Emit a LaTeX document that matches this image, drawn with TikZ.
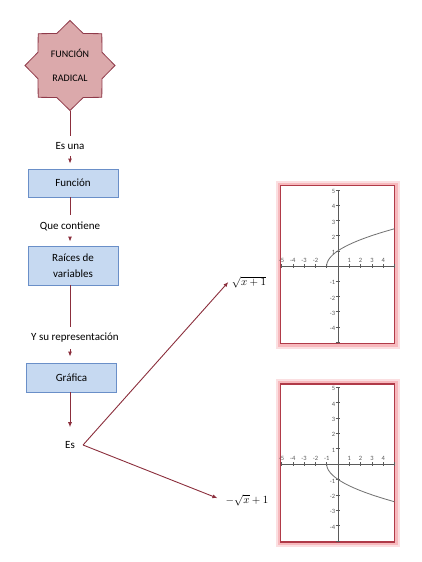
\documentclass[tikz,border=0pt]{standalone}
\usepackage[no-math]{fontspec}
\setmainfont{Carlito}
\usetikzlibrary{positioning,shapes.geometric,arrows.meta}
\definecolor{RadFill}{HTML}{DBA9AB}
\definecolor{RadLine}{HTML}{8F3A4A}
\definecolor{BoxFill}{HTML}{C6D9F1}
\definecolor{BoxLine}{HTML}{6A8FC8}
\definecolor{LinkRed}{HTML}{8B2E3C}
\definecolor{GlowPink}{HTML}{F7B9BD}
\definecolor{PanelRed}{HTML}{B03A48}
\definecolor{AxisGray}{HTML}{5A5A5A}
\definecolor{CurveGray}{HTML}{707070}

\begin{document}
\begin{tikzpicture}[x=1pt,y=-1pt,
    font=\fontsize{11}{12}\selectfont,
    starbox/.style={shape=star,star points=8,star point ratio=1.3,minimum size=90pt,inner sep=0pt,fill=RadFill,draw=RadLine,thick,align=center,font=\fontsize{10}{24}\selectfont},
    box/.style={draw=BoxLine,fill=BoxFill,thick,minimum width=90pt,align=center},
    lbl/.style={inner xsep=2pt,inner ysep=6pt},
    link/.style={draw=LinkRed,line width=0.9pt},
    arrow/.style={link,-{Latex[length=5pt,width=4pt]}},
    panel/.style={draw=PanelRed,line width=1.2pt,fill=white,inner sep=0pt,minimum width=114pt,minimum height=158pt,
      preaction={draw=GlowPink!45,line width=10pt},preaction={draw=GlowPink,line width=6pt}},
    ticklbl/.style={font=\fontsize{6.5}{7}\selectfont,text=AxisGray,inner sep=1pt},
    axis/.style={draw=AxisGray,line width=0.6pt}
  ]
    \useasboundingbox (0,0) rectangle (421,562);
    % flow column
    \node[starbox] (rad) at (70,65.5) {FUNCIÓN\\RADICAL};
    \node[lbl] (esuna) at (70,146) {Es una};
    \node[box,minimum height=28pt] (fun) at (73,183) {Función};
    \node[lbl] (quec) at (70,226) {Que contiene};
    \node[box,minimum height=39pt,font=\fontsize{11}{16}\selectfont] (rai) at (73,265.5) {Raíces de\\variables};
    \node[lbl] (yrep) at (75,338) {Y su representación};
    \node[box,minimum height=29pt] (gra) at (71.5,377.5) {Gráfica};
    \node[lbl,inner xsep=8pt] (es) at (70,445) {Es};
    \node (sqa) at (249,282) {$\sqrt{x+1}$};
    \node (sqb) at (247,500) {$-\sqrt{x}+1$};
    \draw[link] (rad.south -| esuna) -- (esuna.north);
    \draw[arrow,shorten >=5pt] (esuna.south) -- (esuna |- fun.north);
    \draw[link] (fun.south -| quec) -- (quec.north);
    \draw[arrow,shorten >=4pt] (quec.south) -- (quec |- rai.north);
    \draw[link] (rai.south -| rad) -- (rad |- yrep.north);
    \draw[arrow,shorten >=6pt] (rad |- yrep.south) -- (rad |- gra.north);
    \draw[arrow,shorten >=8pt] (gra.south -| rad) -- (es.north);
    \draw[arrow] (es.east) -- (sqa.west);
    \draw[arrow,shorten >=5pt] (es.east) -- (sqb.west);
    % graph panels
    \node[panel] (pa) at (337.5,264.5) {};
    \node[panel] (pb) at (337.5,463) {};
    \begin{scope}[shift={(338,266)},x=11.3pt,y=15.2pt]
      \draw[axis] (-5,0) -- (5,0);
      \draw[axis] (0,-5) -- (0,5);
      \foreach \k in {-5,...,5} {
        \draw[axis] (\k,-0.12) -- (\k,0.12);
        \draw[axis] (-0.2,\k) -- (0.2,\k);
      }
      \foreach \k in {-5,-4,-3,-2,1,2,3,4}
        \node[ticklbl,anchor=south] (pax\k) at (\k,0.15) {\k};
      \foreach \k in {5,4,3,2,1,-1,-2,-3,-4}
        \node[ticklbl,anchor=east] (pay\k) at (-0.15,\k-0.1) {\k};
      \draw[draw=CurveGray,line width=0.8pt,variable=\t,domain=0:2.449,samples=60] plot ({\t*\t-1},\t);
    \end{scope}
    \begin{scope}[shift={(338,464)},x=11.3pt,y=15.4pt]
      \draw[axis] (-5,0) -- (5,0);
      \draw[axis] (0,-5) -- (0,5);
      \foreach \k in {-5,...,5} {
        \draw[axis] (\k,-0.12) -- (\k,0.12);
        \draw[axis] (-0.2,\k) -- (0.2,\k);
      }
      \foreach \k in {-5,-4,-3,-2,-1,1,2,3,4}
        \node[ticklbl,anchor=south] (pbx\k) at (\k,0.15) {\k};
      \foreach \k in {5,4,3,2,1,-1,-2,-3,-4}
        \node[ticklbl,anchor=east] (pby\k) at (-0.15,\k-0.1) {\k};
      \draw[draw=CurveGray,line width=0.8pt,variable=\t,domain=0:2.449,samples=60] plot ({\t*\t-1},-\t);
    \end{scope}
  \end{tikzpicture}
\end{document}
